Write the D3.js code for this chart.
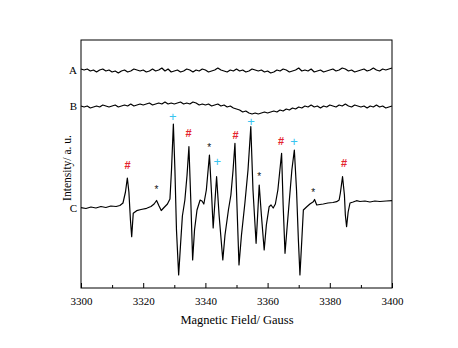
<!DOCTYPE html>
<html><head><meta charset="utf-8">
<script src="https://cdn.jsdelivr.net/npm/d3@7/dist/d3.min.js"></script>
<style>
html,body{margin:0;padding:0;background:#fff;}
svg{display:block;font-family:"Liberation Serif","Times New Roman",serif;}
</style></head>
<body><svg id="c" width="458" height="348"></svg>
<script>
// ---- data ----
const xTicks = [3300, 3320, 3340, 3360, 3380, 3400];
const xMinorTicks = [3310, 3330, 3350, 3370, 3390];
const traceLabels = ["A", "B", "C"];
const traceLabelLevels = [138, 102, 0];

// A and B: noise traces sampled every 1 G from 3300 to 3400
const noiseStart = 3300, noiseStep = 1;
const traceA = [
 139,138,139,137,138,136,138,139,137,138,
 136,137,135,137,138,136,137,139,138,137,
 138,136,137,139,137,138,140,137,139,136,
 137,138,136,137,139,138,136,138,137,139,
 138,136,137,138,140,138,137,136,138,137,
 139,137,138,136,137,139,138,137,138,136,
 137,135,136,138,137,139,138,136,137,138,
 140,137,138,137,139,136,137,138,136,137,
 138,139,137,138,140,139,137,138,136,137,
 138,139,137,138,140,138,137,139,138,139,
 140];
const traceB = [
 102,101,102,100,101,102,101,103,102,101,
 102,103,101,102,103,102,104,102,103,104,
 103,104,105,103,104,105,104,106,104,105,
 104,105,106,104,105,104,106,105,103,104,
 103,104,102,103,104,102,103,101,102,100,
 99,98,96,97,95,94,95,94,95,96,
 95,96,97,96,98,97,99,98,100,99,
 101,100,102,101,103,101,102,100,102,101,
 103,102,101,103,102,104,102,101,103,102,
 101,102,100,102,101,103,101,102,100,101,
 102];

// C: the EPR spectrum (field in G, intensity in a.u.)
const fieldC = [
 3300.0,3301.6,3303.2,3304.8,3306.4,3308.0,3309.6,3311.3,3312.5,3313.5,
 3314.3,3314.9,3315.4,3315.9,3316.3,3316.8,3317.9,3319.3,3321.1,3322.5,
 3323.5,3324.3,3325.1,3325.8,3326.7,3327.8,3328.6,3329.1,3329.7,3330.2,
 3330.7,3331.4,3332.0,3332.6,3333.4,3334.1,3334.7,3335.3,3335.9,3336.5,
 3337.3,3338.3,3338.9,3339.5,3340.3,3341.3,3342.0,3342.5,3343.1,3343.6,
 3344.4,3345.6,3346.3,3347.4,3348.2,3348.9,3349.5,3350.2,3350.8,3351.6,
 3352.7,3353.7,3354.6,3355.3,3356.3,3356.8,3357.3,3358.0,3358.9,3359.6,
 3360.5,3361.1,3361.8,3362.5,3363.3,3364.5,3365.0,3365.6,3366.2,3367.0,
 3367.8,3368.6,3369.3,3369.9,3370.4,3371.0,3371.5,3372.6,3373.6,3374.7,
 3375.1,3375.8,3376.8,3377.9,3379.4,3381.0,3382.2,3383.0,3383.4,3384.1,
 3384.7,3385.0,3385.4,3385.9,3386.5,3387.5,3388.6,3389.7,3391.3,3392.9,
 3394.5,3396.1,3398.1,3400.0];
const intensityC = [
 0.3,-0.5,1,0,1.5,0.5,2,1.5,2.5,5,
 16,30,16,-12,-28.7,-5.3,-2.7,-1.5,-0.3,1.5,
 4,7.5,2,-2.5,0.5,4,9,38,84,38,
 -22,-67,-37,-8,8,33,61.3,8,-52,-22,
 -2,8,7,4,18,53,13,-20,8,31.3,
 -7,-52,-27,-2,13,38,64.7,-2,-57,-27,
 5,38,81.3,18,-35.3,-7,23,-7,-42,-17,
 1.3,3,0,4,18,54.7,3,-45.3,-22,8,
 38,58,18,-32,-67,-32,-2,1.3,4,6.3,
 8.5,3,3.5,4,5,5.5,6.3,8,15,31.3,
 13,-7,-18.7,-4,5,6,7.3,6.5,7,6,
 7,6.5,7,7.3];

// peak markers
const markerSymbols = ["#","*","+","#","*","+","#","+","*","#","+","*","#"];
const markerFields  = [3314.95,3324.3,3329.5,3334.6,3341.2,3343.8,3349.7,3354.7,3357.3,3364.3,3368.5,3374.7,3384.6];
const markerLevels  = [43,22,91.3,75.3,64,46.3,73,86.3,34.7,67,67,18.7,45.3];
const markerColors = {"#":"#e4242e","+":"#38c4f0","*":"#111"};

// ---- chart ----
const svg = d3.select("#c");
const x = d3.scaleLinear().domain([3300, 3400]).range([81, 392]);
const y = d3.scaleLinear().domain([-80, 168]).range([288, 40]);

const line = d3.line().x(d => x(d[0])).y(d => y(d[1]));
const noisePts = arr => arr.map((v, i) => [noiseStart + i * noiseStep, v]);

[noisePts(traceA), noisePts(traceB), fieldC.map((f, i) => [f, intensityC[i]])]
  .forEach(pts => {
    svg.append("path").attr("d", line(pts))
      .attr("fill", "none").attr("stroke", "#000")
      .attr("stroke-width", 1.2).attr("stroke-linejoin", "round");
  });

// frame
svg.append("rect").attr("x", x(3300)).attr("y", y(168))
  .attr("width", x(3400) - x(3300)).attr("height", y(-80) - y(168))
  .attr("fill", "none").attr("stroke", "#000").attr("stroke-width", 1);

// bottom axis
const gx = svg.append("g").attr("transform", `translate(0,${y(-80)})`);
gx.call(d3.axisBottom(x).tickValues(xTicks).tickSize(-5).tickPadding(9).tickFormat(d3.format("d")));
const gm = svg.append("g").attr("transform", `translate(0,${y(-80)})`);
gm.call(d3.axisBottom(x).tickValues(xMinorTicks).tickSize(-3).tickFormat(""));
[gx, gm].forEach(g => {
  g.select(".domain").remove();
  g.selectAll("line").attr("stroke", "#000");
  g.selectAll("text").attr("font-family", "Liberation Serif, serif").attr("font-size", 11).attr("fill", "#000");
});

// axis titles
svg.append("text").attr("x", (x(3300) + x(3400)) / 2 + 0.5).attr("y", 324)
  .attr("text-anchor", "middle").attr("font-size", 12.5).attr("fill", "#000")
  .text("Magnetic Field/ Gauss");
svg.append("text").attr("transform", `translate(71,168) rotate(-90)`)
  .attr("text-anchor", "middle").attr("font-size", 11.5).attr("fill", "#000")
  .text("Intensity/ a. u.");

// trace labels
svg.selectAll("text.tl").data(traceLabels).enter().append("text")
  .attr("class", "tl").attr("x", x(3300) - 4).attr("y", (d, i) => y(traceLabelLevels[i]))
  .attr("dy", "0.35em").attr("text-anchor", "end").attr("font-size", 11).attr("fill", "#000")
  .text(d => d);

// markers
svg.selectAll("text.mk").data(markerSymbols).enter().append("text")
  .attr("class", "mk")
  .attr("x", (d, i) => x(markerFields[i]))
  .attr("y", (d, i) => y(markerLevels[i]))
  .attr("dy", (d) => d === "*" ? "0.7em" : "0.35em")
  .attr("text-anchor", "middle")
  .attr("font-family", "Liberation Sans, Arial, sans-serif")
  .attr("font-size", d => d === "+" ? 13 : (d === "#" ? 11 : 10))
  .attr("font-weight", d => d === "#" ? "bold" : "normal")
  .attr("fill", d => markerColors[d])
  .text(d => d);
</script></body></html>
